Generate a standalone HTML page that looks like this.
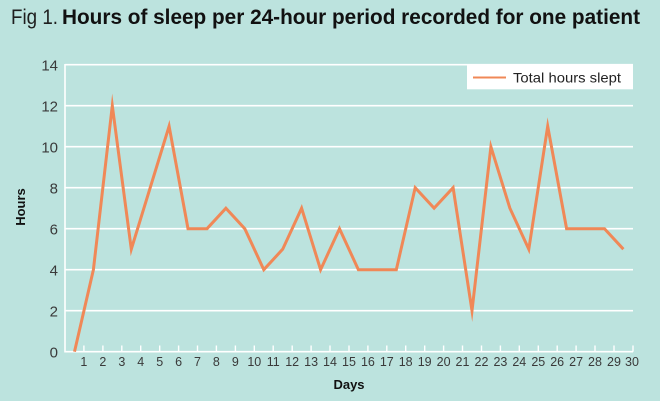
<!DOCTYPE html>
<html>
<head>
<meta charset="utf-8">
<style>
html,body{margin:0;padding:0;background:#bce3de;}
svg{display:block;}
</style>
</head>
<body>
<svg width="660" height="401" viewBox="0 0 660 401" xmlns="http://www.w3.org/2000/svg">
<rect x="0" y="0" width="660" height="401" fill="#bce3de"/>
<!-- Title -->
<text x="11" y="24" font-family="Liberation Sans, sans-serif" font-size="21" fill="#1e1e1e" textLength="47" lengthAdjust="spacingAndGlyphs">Fig 1.</text>
<text x="62" y="24" font-family="Liberation Sans, sans-serif" font-size="21" font-weight="bold" fill="#111" textLength="578" lengthAdjust="spacingAndGlyphs">Hours of sleep per 24-hour period recorded for one patient</text>

<!-- gridlines -->
<g stroke="#ffffff" stroke-width="1.6">
<line x1="65" y1="64.7" x2="633" y2="64.7"/>
<line x1="65" y1="105.7" x2="633" y2="105.7"/>
<line x1="65" y1="146.7" x2="633" y2="146.7"/>
<line x1="65" y1="187.7" x2="633" y2="187.7"/>
<line x1="65" y1="228.7" x2="633" y2="228.7"/>
<line x1="65" y1="269.7" x2="633" y2="269.7"/>
<line x1="65" y1="310.7" x2="633" y2="310.7"/>
<line x1="65" y1="351.7" x2="633" y2="351.7"/>
<line x1="65" y1="64" x2="65" y2="352.5"/>
</g>
<!-- x ticks -->
<g stroke="#ffffff" stroke-width="1.4">
<line x1="83.9" y1="345.5" x2="83.9" y2="351.7"/>
<line x1="102.9" y1="345.5" x2="102.9" y2="351.7"/>
<line x1="121.8" y1="345.5" x2="121.8" y2="351.7"/>
<line x1="140.7" y1="345.5" x2="140.7" y2="351.7"/>
<line x1="159.7" y1="345.5" x2="159.7" y2="351.7"/>
<line x1="178.6" y1="345.5" x2="178.6" y2="351.7"/>
<line x1="197.5" y1="345.5" x2="197.5" y2="351.7"/>
<line x1="216.4" y1="345.5" x2="216.4" y2="351.7"/>
<line x1="235.4" y1="345.5" x2="235.4" y2="351.7"/>
<line x1="254.3" y1="345.5" x2="254.3" y2="351.7"/>
<line x1="273.2" y1="345.5" x2="273.2" y2="351.7"/>
<line x1="292.2" y1="345.5" x2="292.2" y2="351.7"/>
<line x1="311.1" y1="345.5" x2="311.1" y2="351.7"/>
<line x1="330.0" y1="345.5" x2="330.0" y2="351.7"/>
<line x1="349.0" y1="345.5" x2="349.0" y2="351.7"/>
<line x1="367.9" y1="345.5" x2="367.9" y2="351.7"/>
<line x1="386.8" y1="345.5" x2="386.8" y2="351.7"/>
<line x1="405.7" y1="345.5" x2="405.7" y2="351.7"/>
<line x1="424.7" y1="345.5" x2="424.7" y2="351.7"/>
<line x1="443.6" y1="345.5" x2="443.6" y2="351.7"/>
<line x1="462.5" y1="345.5" x2="462.5" y2="351.7"/>
<line x1="481.5" y1="345.5" x2="481.5" y2="351.7"/>
<line x1="500.4" y1="345.5" x2="500.4" y2="351.7"/>
<line x1="519.3" y1="345.5" x2="519.3" y2="351.7"/>
<line x1="538.3" y1="345.5" x2="538.3" y2="351.7"/>
<line x1="557.2" y1="345.5" x2="557.2" y2="351.7"/>
<line x1="576.1" y1="345.5" x2="576.1" y2="351.7"/>
<line x1="595.0" y1="345.5" x2="595.0" y2="351.7"/>
<line x1="614.0" y1="345.5" x2="614.0" y2="351.7"/>
<line x1="633.0" y1="345.5" x2="633.0" y2="351.7"/>
</g>

<!-- y labels -->
<g font-family="Liberation Sans, sans-serif" font-size="15" fill="#3a3a3a" text-anchor="end">
<text x="58" y="70.5">14</text>
<text x="58" y="111.5">12</text>
<text x="58" y="152.5">10</text>
<text x="58" y="193.5">8</text>
<text x="58" y="234.5">6</text>
<text x="58" y="275.5">4</text>
<text x="58" y="316.5">2</text>
<text x="58" y="357.5">0</text>
</g>
<text transform="translate(25,207) rotate(-90)" font-family="Liberation Sans, sans-serif" font-size="13" font-weight="bold" fill="#111" text-anchor="middle">Hours</text>

<!-- x labels -->
<g font-family="Liberation Sans, sans-serif" font-size="12.5" fill="#3a3a3a" text-anchor="middle">
<text x="83.9" y="366">1</text>
<text x="102.9" y="366">2</text>
<text x="121.8" y="366">3</text>
<text x="140.7" y="366">4</text>
<text x="159.7" y="366">5</text>
<text x="178.6" y="366">6</text>
<text x="197.5" y="366">7</text>
<text x="216.4" y="366">8</text>
<text x="235.4" y="366">9</text>
<text x="254.3" y="366">10</text>
<text x="273.2" y="366">11</text>
<text x="292.2" y="366">12</text>
<text x="311.1" y="366">13</text>
<text x="330.0" y="366">14</text>
<text x="349.0" y="366">15</text>
<text x="367.9" y="366">16</text>
<text x="386.8" y="366">17</text>
<text x="405.7" y="366">18</text>
<text x="424.7" y="366">19</text>
<text x="443.6" y="366">20</text>
<text x="462.5" y="366">21</text>
<text x="481.5" y="366">22</text>
<text x="500.4" y="366">23</text>
<text x="519.3" y="366">24</text>
<text x="538.3" y="366">25</text>
<text x="557.2" y="366">26</text>
<text x="576.1" y="366">27</text>
<text x="595.0" y="366">28</text>
<text x="614.0" y="366">29</text>
<text x="632.0" y="366">30</text>
</g>
<text x="349" y="389" font-family="Liberation Sans, sans-serif" font-size="13" font-weight="bold" fill="#111" text-anchor="middle">Days</text>

<!-- series -->
<polyline fill="none" stroke="#f08857" stroke-width="3" stroke-linejoin="miter" stroke-miterlimit="10"
points="74.5,351.7 93.4,269.7 112.3,105.7 131.3,249.2 150.2,187.7 169.1,126.2 188.0,228.7 207.0,228.7 225.9,208.2 244.8,228.7 263.8,269.7 282.7,249.2 301.6,208.2 320.6,269.7 339.5,228.7 358.4,269.7 377.3,269.7 396.3,269.7 415.2,187.7 434.1,208.2 453.1,187.7 472.0,310.7 490.9,146.7 509.9,208.2 528.8,249.2 547.7,126.2 566.6,228.7 585.6,228.7 604.5,228.7 623.4,249.2"/>

<!-- legend -->
<rect x="467" y="64.3" width="166" height="25" fill="#ffffff"/>
<line x1="473" y1="77.5" x2="506" y2="77.5" stroke="#f08857" stroke-width="2"/>
<text x="513" y="82.5" font-family="Liberation Sans, sans-serif" font-size="14" fill="#222" textLength="108" lengthAdjust="spacingAndGlyphs">Total hours slept</text>
</svg>
</body>
</html>
